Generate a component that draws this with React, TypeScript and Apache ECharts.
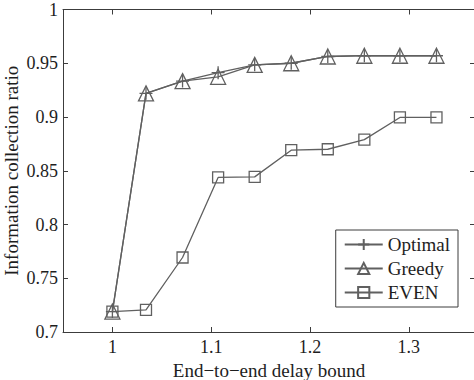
import React, { useEffect, useRef } from "react";
import * as echarts from "echarts";

const xValues = [1.0, 1.034, 1.071, 1.107, 1.144, 1.181, 1.218, 1.255, 1.291, 1.328];
const optimal = [0.719, 0.922, 0.9334, 0.9412, 0.9485, 0.95, 0.9563, 0.957, 0.957, 0.957];
const greedy = [0.719, 0.922, 0.9334, 0.9374, 0.9485, 0.95, 0.9563, 0.957, 0.957, 0.957];
const even = [0.719, 0.7205, 0.7693, 0.8438, 0.8443, 0.8691, 0.87, 0.879, 0.8996, 0.8996];
const xTicks = [1, 1.1, 1.2, 1.3];
const seriesNames = ["Optimal", "Greedy", "EVEN"];

const FONT = "'Liberation Serif', 'Times New Roman', serif";
const LINE = "#606060";
const AXIS = "#3c3c3c";
const TEXT = "#1e1e1e";
const PLUS = "path://M0,6L12,6M6,0L6,12";

export default function App() {
  const ref = useRef<HTMLDivElement>(null);
  useEffect(() => {
    document.body.style.margin = "0";
    if (!ref.current) return;
    const chart = echarts.init(ref.current, null, { renderer: "svg" });
    const pair = (ys: number[]) => xValues.map((x, i) => [x, ys[i]]);
    const fmt = (v: number) => String(parseFloat(v.toFixed(2)));
    const xCommon = {
      type: "value",
      min: 0.95,
      max: 1.367,
      splitLine: { show: false },
      axisLine: { show: true, onZero: false, lineStyle: { color: AXIS, width: 1 } },
      axisTick: { show: true, inside: true, length: 5, customValues: xTicks, lineStyle: { color: AXIS } },
    };
    const yCommon = {
      type: "value",
      min: 0.7,
      max: 1,
      interval: 0.05,
      splitLine: { show: false },
      axisLine: { show: true, onZero: false, lineStyle: { color: AXIS, width: 1 } },
      axisTick: { show: true, inside: true, length: 5, lineStyle: { color: AXIS } },
    };
    const mkSeries = (name: string, data: number[], symbol: string, size: number, z: number) => ({
      name,
      type: "line",
      data: pair(data),
      symbol,
      symbolSize: size,
      showAllSymbol: true,
      z,
      lineStyle: { color: LINE, width: 1.3 },
      itemStyle: { color: "none", borderColor: LINE, borderWidth: 1.3 },
    });
    chart.setOption({
      animation: false,
      textStyle: { fontFamily: FONT },
      grid: { left: 63, right: -1, top: 9.5, bottom: 48, containLabel: false, outerBoundsMode: "none" },
      xAxis: [
        {
          ...xCommon,
          position: "bottom",
          name: "End\u2212to\u2212end delay bound",
          nameLocation: "middle",
          nameGap: 25,
          nameTextStyle: { fontFamily: FONT, fontSize: 19, color: TEXT },
          axisLabel: {
            show: true,
            customValues: xTicks,
            fontFamily: FONT,
            fontSize: 18,
            color: TEXT,
            margin: 6,
            formatter: fmt,
          },
        },
        {
          ...xCommon,
          position: "top",
          axisLabel: { show: false },
        },
      ],
      yAxis: [
        {
          ...yCommon,
          position: "left",
          name: "Information collection ratio",
          nameLocation: "middle",
          nameGap: 42,
          nameMoveOverlap: false,
          nameTextStyle: { fontFamily: FONT, fontSize: 19, color: TEXT },
          axisLabel: {
            fontFamily: FONT,
            fontSize: 18,
            color: TEXT,
            margin: 5,
            formatter: fmt,
          },
        },
        {
          ...yCommon,
          position: "right",
          axisLine: { show: false },
          axisLabel: { show: false },
        },
      ],
      legend: {
        orient: "vertical",
        right: 16,
        top: 230,
        data: seriesNames,
        itemWidth: 38,
        itemHeight: 14,
        itemGap: 5,
        padding: [5, 8, 5, 8],
        borderColor: AXIS,
        borderWidth: 1,
        borderRadius: 0,
        backgroundColor: "#fff",
        textStyle: { fontFamily: FONT, fontSize: 19, color: TEXT },
      },
      series: [
        mkSeries("Optimal", optimal, PLUS, 13, 3),
        mkSeries("Greedy", greedy, "triangle", 15, 2),
        mkSeries("EVEN", even, "rect", 11, 1),
      ],
    });
    return () => chart.dispose();
  }, []);
  return <div ref={ref} style={{ width: 474, height: 380 }} />;
}
